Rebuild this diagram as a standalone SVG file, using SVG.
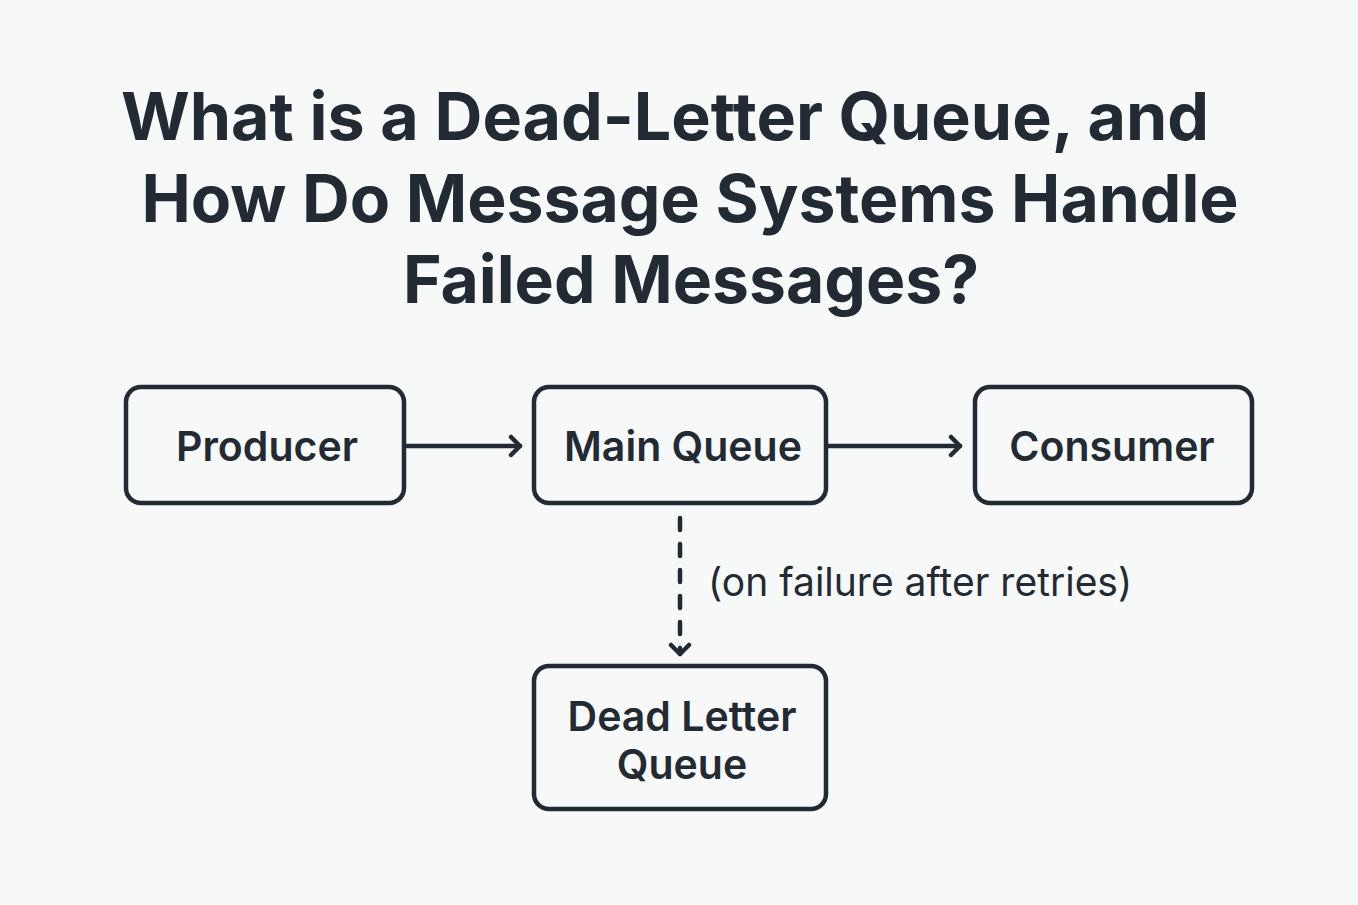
<svg xmlns="http://www.w3.org/2000/svg" width="1358" height="905" viewBox="0 0 1358 905">
<style>
.title{font-family:Inter,"Noto Sans",sans-serif;font-weight:700;font-size:66px;fill:#222b33;text-anchor:middle}
.box{fill:#f7f8f8;stroke:#222b33;stroke-width:4.5}
.lbl{font-family:Inter,"Noto Sans",sans-serif;font-weight:600;font-size:41px;fill:#222b33;text-anchor:middle}
.edge{stroke:#222b33;stroke-width:4.5;fill:none;stroke-linecap:round}
.note{font-family:Inter,"Noto Sans",sans-serif;font-weight:400;font-size:39px;fill:#222b33}
</style>
<defs>
<marker id="arr" viewBox="0 0 24 24" refX="19" refY="12" markerWidth="24" markerHeight="24" markerUnits="userSpaceOnUse" orient="auto">
<path d="M10,3 L19,12 L10,21" fill="none" stroke="#222b33" stroke-width="4.5" stroke-linecap="round" stroke-linejoin="round"/>
</marker>
</defs>
<rect width="1358" height="905" fill="#f7f8f8"/>
<g id="title">
<text class="title" x="665" y="140" textLength="1088" lengthAdjust="spacingAndGlyphs">What is a Dead-Letter Queue, and</text>
<text class="title" x="690" y="222">How Do Message Systems Handle</text>
<text class="title" x="691" y="303">Failed Messages?</text>
</g>
<g id="connectors">
<line class="edge" x1="406" y1="446" x2="520" y2="446" marker-end="url(#arr)"/>
<line class="edge" x1="828" y1="446" x2="960" y2="446" marker-end="url(#arr)"/>
<line class="edge" x1="680" y1="518" x2="680" y2="654" stroke-dasharray="12,14" marker-end="url(#arr)"/>
<text class="note" x="708" y="596">(on failure after retries)</text>
</g>
<g id="producer">
<rect class="box" x="126" y="387" width="278" height="116" rx="15"/>
<text class="lbl" x="267" y="461">Producer</text>
</g>
<g id="main-queue">
<rect class="box" x="534" y="387" width="292" height="116" rx="15"/>
<text class="lbl" x="683" y="461">Main Queue</text>
</g>
<g id="consumer">
<rect class="box" x="975" y="387" width="277" height="116" rx="15"/>
<text class="lbl" x="1112" y="461">Consumer</text>
</g>
<g id="dead-letter-queue">
<rect class="box" x="534" y="666" width="292" height="143" rx="15"/>
<text class="lbl" x="682" y="731">Dead Letter</text>
<text class="lbl" x="682" y="779">Queue</text>
</g>
</svg>
